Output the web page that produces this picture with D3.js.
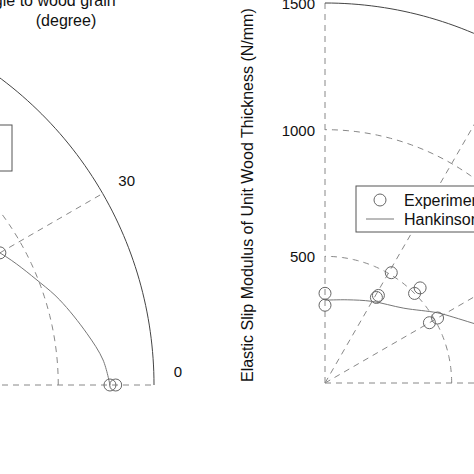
<!DOCTYPE html>
<html><head><meta charset="utf-8">
<script src="https://cdn.jsdelivr.net/npm/d3@7"></script>
<style>body{margin:0;background:#fff}text{font-family:Arial,"Liberation Sans",sans-serif;fill:#111}</style>
</head><body><svg id="c" width="474" height="474"></svg>
<script>
// left panel (angle deg, modulus)
const leftRings = [1500];
const leftSpokes = [0, 30, 60];
const leftPoints = [[0, 1770], [0, 1800], [30, 1380]];
const leftCurve = [[0, 1770], [4.3, 1739], [9.3, 1671], [16.4, 1572], [20.8, 1504], [30, 1380], [45, 1200], [60, 1080], [90, 1000]];
const leftLabels = [[0, "0"], [30, "30"]];
// right panel
const rightTicks = [500, 1000, 1500];
const rightSpokes = [0, 30, 60, 90];
const rightPoints = [[90, 354], [90, 307], [59, 394], [59, 394], [59, 508], [45, 500], [45, 531], [30, 476], [30, 513]];
const rightCurve = [[90, 327], [75, 340], [60, 372], [43.5, 429], [32, 523], [27, 571], [22, 630], [15, 750], [0, 1000]];

const svg = d3.select("#c");
const grey = "#888";

function panel(ox, oy, rMax, rangePx) {
  const r = d3.scaleLinear().domain([0, rMax]).range([0, rangePx]);
  const g = svg.append("g").attr("transform", `translate(${ox},${oy})`);
  const pt = (a, v) => [r(v) * Math.cos(a * Math.PI / 180), -r(v) * Math.sin(a * Math.PI / 180)];
  const arc = v => d3.line()(d3.range(0, 90.5, 1).map(a => pt(a, v)));
  return {r, g, pt, arc};
}

// left
const L = panel(-229, 385, 2000, 383);
leftRings.forEach(v => L.g.append("path").attr("d", L.arc(v)).attr("fill", "none").attr("stroke", grey).attr("stroke-dasharray", "6,5"));
leftSpokes.forEach(a => L.g.append("path").attr("d", d3.line()([[0, 0], L.pt(a, 2000)])).attr("stroke", grey).attr("stroke-dasharray", "6,5"));
L.g.append("path").attr("d", L.arc(2000)).attr("fill", "none").attr("stroke", "#444");
L.g.append("path").attr("d", d3.line().curve(d3.curveCatmullRom)(leftCurve.map(d => L.pt(d[0], d[1])))).attr("fill", "none").attr("stroke", "#777");
leftPoints.forEach(d => { const p = L.pt(d[0], d[1]); L.g.append("circle").attr("cx", p[0]).attr("cy", p[1]).attr("r", 6).attr("fill", "none").attr("stroke", "#666"); });
leftLabels.forEach(d => { const p = L.pt(d[0], 2000); L.g.append("text").attr("x", p[0] + 24).attr("y", p[1] - 8).attr("text-anchor", "middle").attr("font-size", 15).text(d[1]); });
svg.append("text").attr("x", 45).attr("y", 6).attr("text-anchor", "middle").attr("font-size", 16).text("Angle to wood grain");
svg.append("text").attr("x", 66).attr("y", 26).attr("text-anchor", "middle").attr("font-size", 16).text("(degree)");
svg.append("rect").attr("x", -40).attr("y", 125).attr("width", 52).attr("height", 46).attr("fill", "none").attr("stroke", "#555");

// right
const R = panel(325, 383, 1500, 380);
rightTicks.slice(0, 2).forEach(v => R.g.append("path").attr("d", R.arc(v)).attr("fill", "none").attr("stroke", grey).attr("stroke-dasharray", "6,5"));
rightSpokes.forEach(a => R.g.append("path").attr("d", d3.line()([[0, 0], R.pt(a, 1500)])).attr("stroke", grey).attr("stroke-dasharray", "6,5"));
R.g.append("path").attr("d", R.arc(1500)).attr("fill", "none").attr("stroke", "#444");
R.g.append("path").attr("d", d3.line().curve(d3.curveCatmullRom)(rightCurve.map(d => R.pt(d[0], d[1])))).attr("fill", "none").attr("stroke", "#777");
rightPoints.forEach((d, i) => { const p = R.pt(d[0], d[1]); R.g.append("circle").attr("cx", p[0] + (i == 3 ? 2 : 0)).attr("cy", p[1] - (i == 3 ? 2 : 0)).attr("r", 6).attr("fill", "none").attr("stroke", "#666"); });
rightTicks.forEach(v => R.g.append("text").attr("x", -10).attr("y", -R.r(v) + 6).attr("text-anchor", "end").attr("font-size", 15).text(v));
svg.append("text").attr("transform", "translate(253,382) rotate(-90)").attr("font-size", 16).text("Elastic Slip Modulus of Unit Wood Thickness (N/mm)");
// legend
const lg = svg.append("g").attr("transform", "translate(356,186)");
lg.append("rect").attr("width", 160).attr("height", 46).attr("fill", "#fff").attr("stroke", "#555");
lg.append("circle").attr("cx", 24).attr("cy", 14).attr("r", 6).attr("fill", "none").attr("stroke", "#666");
lg.append("line").attr("x1", 10).attr("x2", 38).attr("y1", 33).attr("y2", 33).attr("stroke", "#777");
lg.append("text").attr("x", 48).attr("y", 20).attr("font-size", 16).text("Experimental");
lg.append("text").attr("x", 48).attr("y", 39).attr("font-size", 16).text("Hankinson's formula");
</script></body></html>
